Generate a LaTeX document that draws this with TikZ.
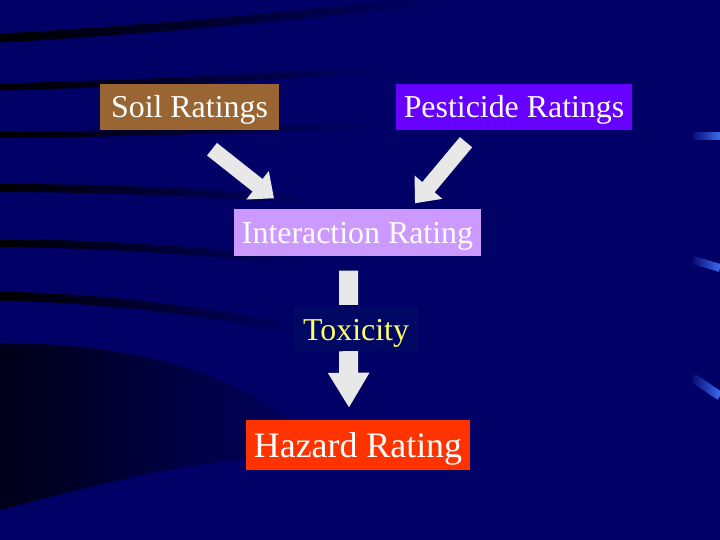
\documentclass[tikz,border=0pt]{standalone}
\usepackage{fontspec}
\setmainfont{Liberation Serif}
\usetikzlibrary{arrows.meta,fadings}

\definecolor{slidebg}{RGB}{0,0,102}
\definecolor{soilbrown}{RGB}{153,102,51}
\definecolor{pestviolet}{RGB}{102,0,255}
\definecolor{interlilac}{RGB}{204,153,255}
\definecolor{hazardred}{RGB}{255,51,0}
\definecolor{toxbg}{RGB}{0,8,100}
\definecolor{toxyellow}{RGB}{255,255,102}
\definecolor{arrowgrey}{RGB}{232,232,232}
\definecolor{glintblue}{RGB}{70,120,255}

\tikzset{
  box/.style={rectangle, inner sep=0pt, text=white, text height=34bp, text depth=12bp},
  bigarrow/.style={arrowgrey, line width=16bp, -{Triangle[width=35bp,length=21bp]}},
  streak/.style={black, line width=#1, path fading=east},
  glint/.style={glintblue, line width=#1, path fading=west},
}

\begin{document}
\begin{tikzpicture}[x=1bp,y=-1bp,font=\fontsize{32}{38}\selectfont]
\useasboundingbox (0,0) rectangle (720,540);
\fill[slidebg] (0,0) rectangle (720,540);
% background streaks
\draw[streak=9bp] (0,38) .. controls (150,30) and (300,15) .. (440,0);
\draw[streak=7bp] (0,87) .. controls (120,84) and (250,78) .. (380,70);
\draw[streak=6bp] (0,135) .. controls (120,134) and (250,130) .. (380,125);
\draw[streak=8bp] (0,188) .. controls (100,188) and (200,192) .. (300,200);
\draw[streak=8bp] (0,243) .. controls (100,244) and (200,250) .. (300,262);
\draw[streak=9bp] (0,296) .. controls (100,298) and (200,310) .. (300,330);
\fill[black, opacity=0.75, path fading=east] (0,343) .. controls (170,343) and (280,390) .. (340,470) .. controls (250,440) and (120,480) .. (0,510) -- cycle;
\draw[glint=8bp] (693,136) -- (720,136);
\draw[glint=8bp] (693,260) -- (720,268);
\draw[glint=9bp] (693,378) -- (720,396);
% boxes
\node[box, fill=soilbrown, minimum width=179bp] (soil) at (189.5,107) {Soil Ratings};
\node[box, fill=pestviolet, minimum width=236bp] (pest) at (514,107) {Pesticide Ratings};
\node[box, fill=interlilac, minimum width=247bp] (inter) at (357.5,232.5) {Interaction Rating};
\node[box, fill=toxbg, text=toxyellow, minimum width=124bp, text height=33bp, text depth=11bp] (tox) at (356,329) {Toxicity};
\node[box, fill=hazardred, minimum width=224bp, text height=37.5bp, text depth=12.5bp, font=\fontsize{36}{43}\selectfont] (hazard) at (358,445) {Hazard Rating};
% arrows
\draw[bigarrow] ([shift={(22.5,19)}]soil.south) -- ([shift={(-83.5,-11)}]inter.north);
\draw[bigarrow] ([shift={(-48,12)}]pest.south) -- ([shift={(57.5,-6)}]inter.north);
\draw[arrowgrey, line width=19bp] ([shift={(-9,15)}]inter.south) -- ([shift={(-7.5,-2)}]tox.north);
\draw[arrowgrey, line width=19bp, -{Triangle[width=39bp,length=35bp]}] ([shift={(-7.5,0)}]tox.south) -- ([shift={(-9,-12)}]hazard.north);
\end{tikzpicture}
\end{document}
